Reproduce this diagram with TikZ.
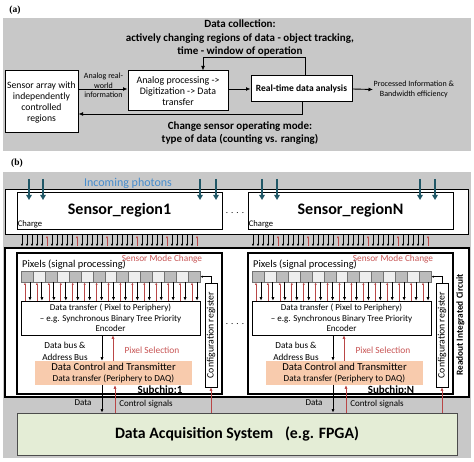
\documentclass[tikz,border=0pt]{standalone}
\usepackage{fontspec}
\setmainfont{Carlito}
\newfontfamily\serifb{Liberation Serif}
\usetikzlibrary{arrows.meta,calc}
\definecolor{bggray}{RGB}{200,200,200}
\definecolor{cellgray}{RGB}{188,188,188}
\definecolor{cellwhite}{RGB}{238,238,238}
\definecolor{myred}{RGB}{185,70,70}
\definecolor{modered}{RGB}{200,85,85}
\definecolor{photon}{RGB}{33,88,103}
\definecolor{photonblue}{RGB}{70,140,205}
\definecolor{dctorange}{RGB}{248,203,173}
\definecolor{daqgreen}{RGB}{228,237,214}
\newcommand\fsz[2]{\fontsize{#1}{#2}\selectfont}
\begin{document}
\begin{tikzpicture}[x=1pt,y=-1pt,
  box/.style={draw=black, fill=white, line width=1pt, align=center, inner sep=1pt},
  bgbox/.style={fill=bggray, inner sep=0pt},
  arr/.style={-{Latex[length=4.5pt,width=4pt]}, line width=0.9pt},
  sarr/.style={-{Latex[length=2.6pt,width=2.2pt]}, line width=0.5pt},
  rarr/.style={-{Latex[length=2.6pt,width=2.2pt]}, line width=0.6pt, draw=myred},
  barr/.style={-{Latex[length=3.6pt,width=3.2pt]}, line width=0.9pt},
  rbarr/.style={-{Latex[length=3.6pt,width=3.2pt]}, line width=0.9pt, draw=myred},
  phot/.style={-{Triangle[length=5pt,width=5.5pt]}, line width=2pt, draw=photon},
  txt/.style={inner sep=0.5pt, align=center}
]
\useasboundingbox (0,0) rectangle (474,462);
% ---------------- panel (a)
\node[txt, font=\serifb\bfseries\fsz{9.5}{11}] (la) at (15,10) {(a)};
\node[bgbox, minimum width=468, minimum height=133] (pa) at (237,84.5) {};
\node[txt, font=\bfseries\fsz{11}{13.5}] (dc) at (240,38.5) {Data collection:\\actively changing regions of data - object tracking,\\time - window of operation};
\node[box, minimum width=73, minimum height=62, font=\fsz{9.7}{11}] (sa) at (41.5,102) {Sensor array with\\independently\\controlled\\regions};
\node[box, minimum width=100, minimum height=40, font=\fsz{9.9}{11}] (an) at (178,91) {Analog processing ->\\Digitization -> Data\\transfer};
\node[box, minimum width=101, minimum height=26, font=\bfseries\fsz{9.5}{11}] (rt) at (301.5,89) {Real-time data analysis};
\node[txt, font=\fsz{8}{9.6}] (arw) at (103.5,85.5) {Analog real-\\world\\information};
\node[txt, font=\fsz{8}{10.5}, anchor=west] (out) at (373,89.5) {Processed Information \&\\Bandwidth efficiency};
\node[txt, font=\bfseries\fsz{11}{13}] (cs) at (240,133.5) {Change sensor operating mode:\\type of data (counting vs. ranging)};
\draw[arr] (sa.east |- rt.west) -- (an.west |- rt.west);
\draw[arr] (an.east |- rt.west) -- (rt.west);
\draw[arr] (rt.east) -- (out.west);
\coordinate (f1) at (305,57);
\coordinate (f2) at (203,57);
\draw[arr] (rt.north -| f1) |- (f2) -- (an.north -| f2);
\coordinate (b1) at (302,114);
\draw[arr] (rt.south -| b1) |- (sa.east |- b1);
% ---------------- panel (b)
\node[txt, font=\serifb\bfseries\fsz{9.5}{11}] (lb) at (17,163) {(b)};
\node[bgbox, minimum width=468, minimum height=286] (pb) at (237,315) {};
\node[draw=black, fill=white, line width=0.7pt, minimum width=463, minimum height=45, inner sep=0] (so) at (236.5,211.5) {};
\node[draw=black, fill=white, line width=0.7pt, minimum width=205, minimum height=37, font=\bfseries\fsz{16}{17}] (s1) at (119.5,210.5) {Sensor\_region1};
\node[draw=black, fill=white, line width=0.7pt, minimum width=205, minimum height=37, font=\bfseries\fsz{16}{17}] (sN) at (350.5,210.5) {Sensor\_regionN};
\node[anchor=south west, inner sep=1pt, font=\fsz{8.6}{9}] (c1) at (s1.south west) {Charge};
\node[anchor=south west, inner sep=1pt, font=\fsz{8.6}{9}] (cN) at (sN.south west) {Charge};
\node[txt, font=\fsz{9}{10}] (d1) at (235,213) {.\,\,.\,\,.\,\,.};
\node[txt, font=\fsz{12}{13}, text=photonblue] (ip) at (128,183) {Incoming photons};
\foreach \x in {29,43,200,216,262,277,420,435}{
  \draw[phot] (\x,179) -- (\x,200);
}
% readout box
\node[draw=black, fill=white, line width=1.1pt, minimum width=464, minimum height=149, inner sep=0] (ric) at (237,322.5) {};
\node[txt, rotate=90, font=\bfseries\fsz{9.3}{10}] (rl) at (460.5,325) {Readout Integrated Circuit};
% strip arrows
\foreach \o in {0,231}{
  \foreach \i in {0,...,35}{
    \pgfmathsetmacro\xx{22+5*\i+\o}
    \pgfmathtruncatemacro\mm{mod(\i,6)}
    \ifnum\mm=5
      \draw[rarr] (\xx,246.5) -- (\xx,235.5);
    \else
      \draw[sarr] (\xx,235.5) -- (\xx,246.5);
    \fi
  }
}
\node[txt, font=\fsz{9}{10}] (d2) at (235,324) {.\,\,.\,\,.\,\,.};
% DAQ
\node[draw=black!70, fill=daqgreen, line width=0.8pt, minimum width=440, minimum height=42, font=\bfseries\fsz{15.8}{17}] (daq) at (237,434) {Data Acquisition System\hspace{0.75em}(e.g. FPGA)};
% subchips
\foreach \o/\n in {0/1,231/N}{
  \node[draw=black, fill=white, line width=1.1pt, minimum width=205, minimum height=141, inner sep=0] (sub\n) at (119.5+\o,323.5) {};
  \node[txt, anchor=west, font=\fsz{10.4}{11}] (pix\n) at (21.5+\o,265) {Pixels (signal processing)};
  \node[txt, font=\fsz{9.3}{10}, text=modered] (smc\n) at (162+\o,259.5) {Sensor Mode Change};
  \foreach \k in {0,...,14}{
    \pgfmathtruncatemacro\pp{mod(\k,2)}
    \ifnum\pp=0 \def\cc{cellgray}\else\def\cc{cellwhite}\fi
    \node[draw=black!55, fill=\cc, line width=0.4pt, minimum width=11.93, minimum height=11, inner sep=0, anchor=north west] (pc\n-\k) at (21+\o+11.93*\k,271) {};
  }
  \node[draw=black, fill=white, line width=0.6pt, minimum width=179, minimum height=34, inner sep=0, align=center, font=\fsz{9}{10.5}] (dt\n) at (110.5+\o,318) {Data transfer ( Pixel to Periphery)\\– e.g. Synchronous Binary Tree Priority\\Encoder};
  \foreach \k in {0,...,14}{
    \draw[rarr] ([xshift=4pt]pc\n-\k.south west |- dt\n.north) -- ([xshift=4pt]pc\n-\k.south west);
    \draw[barr] ([xshift=9pt]pc\n-\k.south west) -- ([xshift=9pt]pc\n-\k.south west |- dt\n.north);
  }
  \node[draw=black, fill=white, line width=0.6pt, rotate=90, minimum width=104, minimum height=12, inner sep=0, font=\fsz{9.8}{10}] (cf\n) at (211+\o,335) {Configuration register};
  \draw[sarr, line width=0.7pt] (cf\n.east) |- (pc\n-14.east);
  \node[txt, font=\fsz{9.2}{12}] (db\n) at (65+\o,351) {Data bus \&\\Address Bus};
  \node[txt, font=\fsz{9.4}{10}, text=modered] (ps\n) at (152+\o,350) {Pixel Selection};
  \node[fill=dctorange, minimum width=157, minimum height=24, inner sep=0] (dct\n) at (113.5+\o,373) {};
  \node[txt, font=\fsz{10.6}{11}] (dcta\n) at (113.5+\o,366.5) {Data Control and Transmitter};
  \node[txt, font=\fsz{9.2}{10}] (dctb\n) at (113.5+\o,379.3) {Data transfer (Periphery to DAQ)};
  \node[txt, anchor=base, font=\bfseries\fsz{11}{12}] (sl\n) at (160+\o,393.4) {Subchip:\n};
  \coordinate (xa\n) at (102+\o,0);
  \coordinate (xb\n) at (113+\o,0);
  \coordinate (xc\n) at (115+\o,0);
  \draw[barr] (dt\n.south -| xa\n) -- (dct\n.north -| xa\n);
  \draw[rbarr, line width=0.7pt] (dct\n.north -| xb\n) -- (dt\n.south -| xb\n);
  \draw[barr] (dct\n.south -| xa\n) -- (daq.north -| xa\n);
  \draw[rbarr, line width=0.7pt] (daq.north -| xc\n) -- (dct\n.south -| xc\n);
  \draw[rbarr, line width=0.7pt] (daq.north -| cf\n.west) -- (cf\n.west);
  \node[txt, font=\fsz{9}{10}] (dl\n) at (83+\o,403) {Data};
  \node[txt, font=\fsz{9}{10}] (csl\n) at (146+\o,404) {Control signals};
}
\end{tikzpicture}
\end{document}
